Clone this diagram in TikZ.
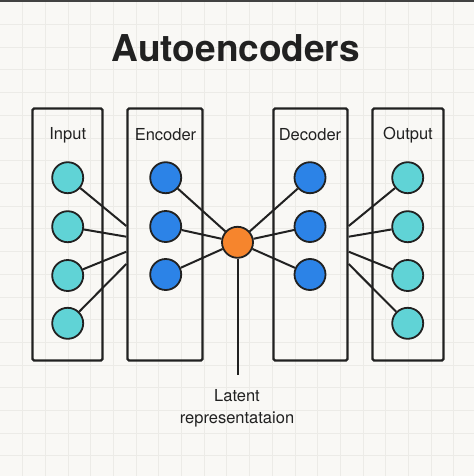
\documentclass[tikz,border=0pt]{standalone}
\usepackage{fontspec}
\setmainfont{TeX Gyre Heros}
\definecolor{bg}{RGB}{249,248,245}
\definecolor{gridc}{RGB}{236,235,231}
\definecolor{ink}{RGB}{33,33,33}
\definecolor{cyanf}{RGB}{96,211,214}
\definecolor{bluef}{RGB}{44,131,231}
\definecolor{orangef}{RGB}{246,133,45}
\tikzset{
  panel/.style={draw=ink, line width=2.4pt, rounded corners=1.5pt},
  cyannode/.style={circle, draw=ink, line width=1.8pt, fill=cyanf, minimum size=31pt, inner sep=0pt},
  bluenode/.style={circle, draw=ink, line width=1.8pt, fill=bluef, minimum size=31pt, inner sep=0pt},
  latentnode/.style={circle, draw=ink, line width=1.8pt, fill=orangef, minimum size=31pt, inner sep=0pt},
  link/.style={draw=ink, line width=2pt},
  lbl/.style={font=\fontsize{16.5}{20}\selectfont, text=ink, inner sep=0pt}
}
\begin{document}
\begin{tikzpicture}[x=1pt,y=-1pt]
\useasboundingbox (0,0) rectangle (474,476);
\fill[bg] (0,0) rectangle (474,476);
\foreach \i in {0,...,20} {
  \draw[gridc, line width=0.8pt] (22.5+22.7*\i,0) -- (22.5+22.7*\i,476);
  \draw[gridc, line width=0.8pt] (0,24.5+22.7*\i) -- (474,24.5+22.7*\i);
}
\fill[ink!85] (0,0) rectangle (474,2.5);
% title
\node[font=\fontsize{37}{40}\selectfont\bfseries, text=ink, inner sep=0pt] (title) at (236,48) {Autoencoders};
% panels
\draw[panel] (32.5,108.5) rectangle (102.5,360.5);
\draw[panel] (127.5,108.5) rectangle (202.5,360.5);
\draw[panel] (273.5,108.5) rectangle (347.5,360.5);
\draw[panel] (372.5,108.5) rectangle (443.5,360.5);
\node[lbl] (linput) at (67.7,135) {Input};
\node[lbl] (lenc) at (165.5,135) {Encoder};
\node[lbl] (ldec) at (310,135) {Decoder};
\node[lbl] (lout) at (408,135) {Output};
% nodes
\node[cyannode] (i1) at (67.7,177.7) {};
\node[cyannode] (i2) at (67.7,226.7) {};
\node[cyannode] (i3) at (67.7,275.5) {};
\node[cyannode] (i4) at (67.7,323.3) {};
\node[bluenode] (e1) at (165.7,177.7) {};
\node[bluenode] (e2) at (165.7,226.5) {};
\node[bluenode] (e3) at (165.7,274.5) {};
\node[latentnode] (z) at (237.5,242.3) {};
\node[bluenode] (d1) at (310,177.7) {};
\node[bluenode] (d2) at (310,226.5) {};
\node[bluenode] (d3) at (310,274.5) {};
\node[cyannode] (o1) at (407.7,177.7) {};
\node[cyannode] (o2) at (407.7,226.7) {};
\node[cyannode] (o3) at (407.7,275.5) {};
\node[cyannode] (o4) at (407.7,323.3) {};
% edge coordinates on panel borders
\coordinate (el1) at (126.3,226);
\coordinate (el2) at (126.3,236.7);
\coordinate (el3) at (126.3,251.7);
\coordinate (el4) at (126.3,264);
\coordinate (dr1) at (348.7,226);
\coordinate (dr2) at (348.7,236.7);
\coordinate (dr3) at (348.7,251.7);
\coordinate (dr4) at (348.7,264);
\coordinate (zend) at (237.5,375);
% connectors
\draw[link] (i1) -- (el1);
\draw[link] (i2) -- (el2);
\draw[link] (i3) -- (el3);
\draw[link] (i4) -- (el4);
\draw[link] (e1) -- (z);
\draw[link] (e2) -- (z);
\draw[link] (e3) -- (z);
\draw[link] (z) -- (d1);
\draw[link] (z) -- (d2);
\draw[link] (z) -- (d3);
\draw[link] (dr1) -- (o1);
\draw[link] (dr2) -- (o2);
\draw[link] (dr3) -- (o3);
\draw[link] (dr4) -- (o4);
\draw[link] (z) -- (zend);
% caption
\node[lbl, align=center, font=\fontsize{16.5}{22}\selectfont] (cap) at (237,408) {Latent\\representataion};
\end{tikzpicture}
\end{document}
